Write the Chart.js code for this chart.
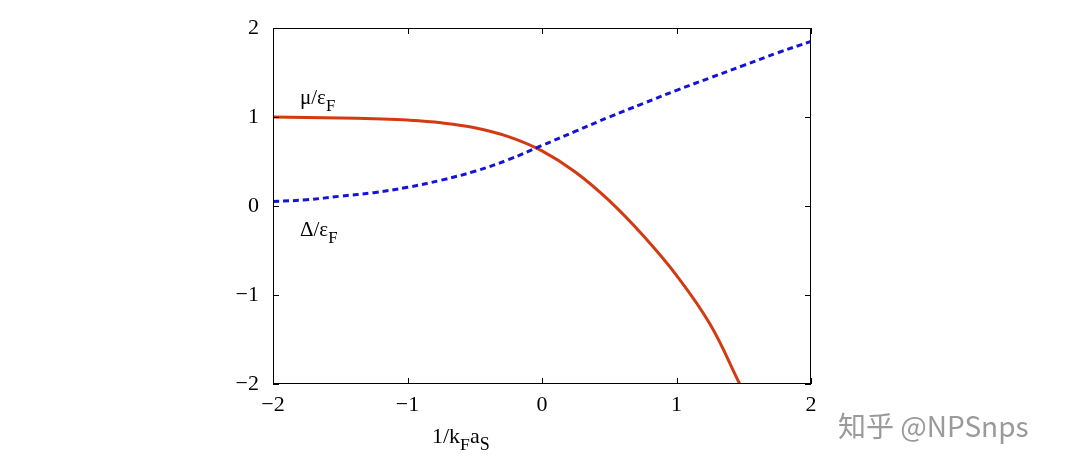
<!DOCTYPE html>
<html><head><meta charset="utf-8">
<script src="https://cdn.jsdelivr.net/npm/chart.js@4"></script>
<style>html,body{margin:0;background:#fff}#wrap{width:1090px;height:474px}</style>
</head><body><div id="wrap"><canvas id="c"></canvas></div>
<script>
const xTicks = [-2, -1, 0, 1, 2];
const yTicks = [-2, -1, 0, 1, 2];
const muX = [-2, -1.75, -1.5, -1.25, -1, -0.75, -0.5, -0.25, 0, 0.25, 0.5, 0.75, 1, 1.25, 1.47];
const muY = [1.0, 0.995, 0.99, 0.98, 0.965, 0.935, 0.88, 0.78, 0.62, 0.38, 0.06, -0.33, -0.78, -1.33, -2.0];
const gapX = [-2, -1.75, -1.5, -1.25, -1, -0.75, -0.5, -0.25, 0, 0.25, 0.5, 0.75, 1, 1.25, 1.5, 1.75, 2];
const gapY = [0.05, 0.07, 0.11, 0.15, 0.21, 0.29, 0.39, 0.52, 0.68, 0.84, 1.0, 1.15, 1.3, 1.44, 1.58, 1.72, 1.85];

const serif = '"Liberation Serif", "DejaVu Serif", serif';
const toPts = (xs, ys) => xs.map((x, i) => ({x: x, y: ys[i]}));

function subText(ctx, x, y, main, sub, size) {
  ctx.font = size + 'px ' + serif;
  ctx.fillText(main, x, y);
  const w = ctx.measureText(main).width;
  ctx.font = (size * 0.8) + 'px ' + serif;
  ctx.fillText(sub, x + w, y + 7);
  return x + w + ctx.measureText(sub).width;
}

const extras = {
  id: 'extras',
  afterDraw(chart) {
    const ctx = chart.ctx, a = chart.chartArea;
    const sx = chart.scales.x, sy = chart.scales.y;
    ctx.save();
    ctx.strokeStyle = '#000'; ctx.lineWidth = 1;
    ctx.strokeRect(a.left + 0.5, a.top + 0.5, a.width - 1, a.height - 1);
    ctx.beginPath();
    xTicks.forEach(v => {
      const p = Math.round(sx.getPixelForValue(v)) + 0.5;
      ctx.moveTo(p, a.bottom); ctx.lineTo(p, a.bottom - 6);
      ctx.moveTo(p, a.top); ctx.lineTo(p, a.top + 6);
    });
    yTicks.forEach(v => {
      const p = Math.round(sy.getPixelForValue(v)) + 0.5;
      ctx.moveTo(a.left, p); ctx.lineTo(a.left + 6, p);
      ctx.moveTo(a.right, p); ctx.lineTo(a.right - 6, p);
    });
    ctx.stroke();
    ctx.fillStyle = '#000';
    ctx.textBaseline = 'alphabetic';
    subText(ctx, 300, 104, 'μ/ε', 'F', 21);
    subText(ctx, 300, 236, 'Δ/ε', 'F', 21);
    let x = 432, y = 443;
    x = subText(ctx, x, y, '1/k', 'F', 22);
    ctx.font = '22px ' + serif;
    ctx.fillText('a', x, y);
    x += ctx.measureText('a').width;
    ctx.font = '18px ' + serif;
    ctx.fillText('S', x, y + 7);
    ctx.fillStyle = '#9a9a9a';
    ctx.font = '28px "Noto Sans CJK SC", sans-serif';
    ctx.fillText('知乎 @NPSnps', 838, 437);
    ctx.restore();
  }
};

new Chart(document.getElementById('c'), {
  type: 'scatter',
  data: {
    datasets: [
      {data: toPts(gapX, gapY), showLine: true, borderColor: '#1414d8', borderWidth: 3,
       borderDash: [6, 4], pointRadius: 0, tension: 0.4},
      {data: toPts(muX, muY), showLine: true, borderColor: '#d33a12', borderWidth: 3,
       pointRadius: 0, tension: 0.4}
    ]
  },
  options: {
    responsive: true, maintainAspectRatio: false, animation: false,
    layout: {padding: {top: 28, right: 279, left: 0, bottom: 0}},
    plugins: {legend: {display: false}, tooltip: {enabled: false}},
    scales: {
      x: {
        type: 'linear', min: -2, max: 2,
        afterFit: s => { s.height = 90; },
        afterBuildTicks: s => { s.ticks = xTicks.map(v => ({value: v})); },
        grid: {display: false}, border: {display: false},
        ticks: {color: '#000', font: {family: serif, size: 22}, padding: 0,
                callback: v => v < 0 ? '−' + Math.abs(v) : v}
      },
      y: {
        type: 'linear', min: -2, max: 2,
        afterFit: s => { s.width = 273; },
        afterBuildTicks: s => { s.ticks = yTicks.map(v => ({value: v})); },
        grid: {display: false}, border: {display: false},
        ticks: {color: '#000', font: {family: serif, size: 22}, padding: 6,
                callback: v => v < 0 ? '−' + Math.abs(v) : v}
      }
    }
  },
  plugins: [extras]
});
</script></body></html>
